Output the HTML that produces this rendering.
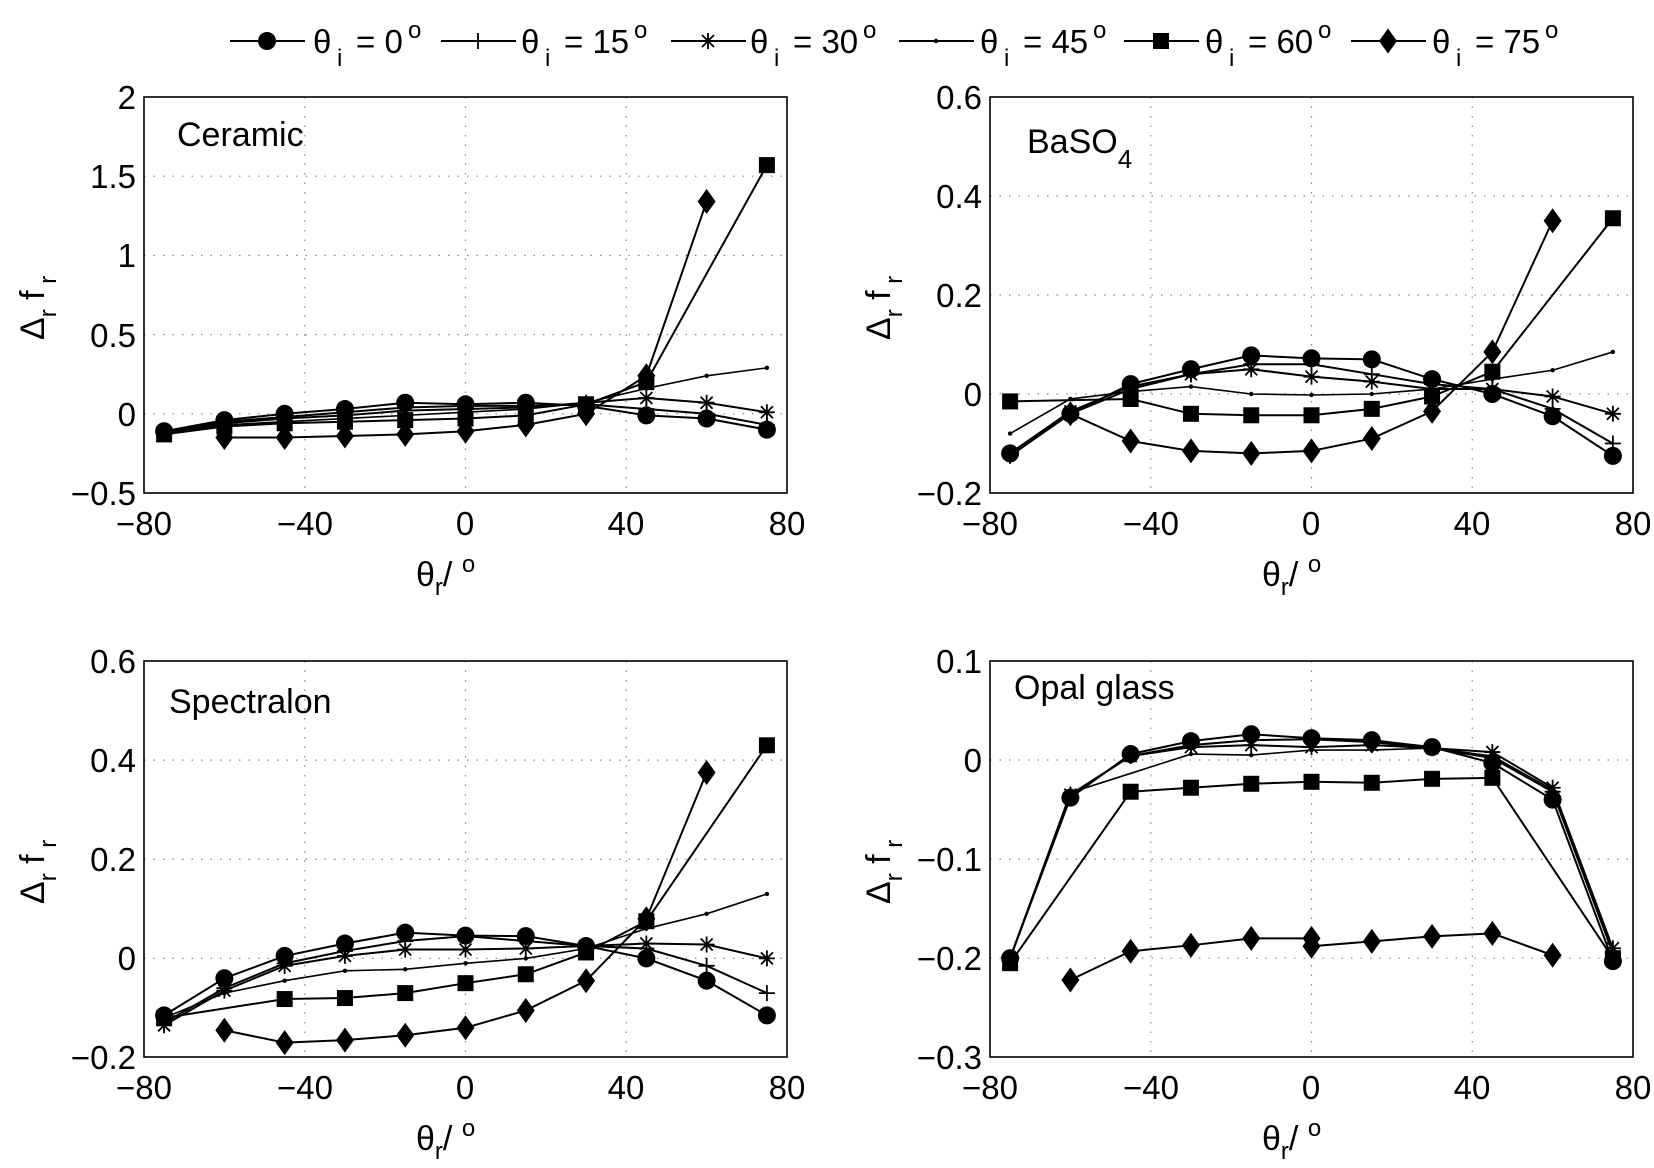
<!DOCTYPE html>
<html><head><meta charset="utf-8"><style>
html,body{margin:0;padding:0;background:#fff;}
svg{display:block;font-family:"Liberation Sans",sans-serif;}
.t{font-size:33px;fill:#000}
.ti{font-size:34px;fill:#000}
.lg{font-size:33px;fill:#000}
</style></head><body>
<svg id="s" width="1654" height="1168" viewBox="0 0 1654 1168" xmlns="http://www.w3.org/2000/svg">
<rect width="1654" height="1168" fill="#fff"/>
<g id="grid"></g>
<g id="data"></g>
<g fill="none" stroke="#000" stroke-width="1.6">
<rect x="144" y="97" width="643" height="396"/>
<rect x="990" y="97" width="643" height="396"/>
<rect x="144" y="661" width="643" height="396"/>
<rect x="990" y="661" width="643" height="396"/>
</g>
<!-- Legend -->
<g class="lg">
<text x="313" y="53">θ</text><text x="337" y="66" font-size="24">i</text><text x="356" y="53">= 0</text><text x="408" y="38" font-size="24">o</text>
<text x="521" y="53">θ</text><text x="545" y="66" font-size="24">i</text><text x="564" y="53">= 15</text><text x="634" y="38" font-size="24">o</text>
<text x="750" y="53">θ</text><text x="774" y="66" font-size="24">i</text><text x="793" y="53">= 30</text><text x="863" y="38" font-size="24">o</text>
<text x="980" y="53">θ</text><text x="1004" y="66" font-size="24">i</text><text x="1023" y="53">= 45</text><text x="1093" y="38" font-size="24">o</text>
<text x="1205" y="53">θ</text><text x="1229" y="66" font-size="24">i</text><text x="1248" y="53">= 60</text><text x="1318" y="38" font-size="24">o</text>
<text x="1432" y="53">θ</text><text x="1456" y="66" font-size="24">i</text><text x="1475" y="53">= 75</text><text x="1545" y="38" font-size="24">o</text>
</g>
<g class="t" text-anchor="end">
<text x="136" y="109">2</text><text x="136" y="188">1.5</text><text x="136" y="267">1</text><text x="136" y="347">0.5</text><text x="136" y="426">0</text><text x="136" y="505">−0.5</text>
<text x="982" y="109">0.6</text><text x="982" y="208">0.4</text><text x="982" y="307">0.2</text><text x="982" y="406">0</text><text x="982" y="505">−0.2</text>
<text x="136" y="673">0.6</text><text x="136" y="772">0.4</text><text x="136" y="871">0.2</text><text x="136" y="970">0</text><text x="136" y="1069">−0.2</text>
<text x="982" y="673">0.1</text><text x="982" y="772">0</text><text x="982" y="871">−0.1</text><text x="982" y="970">−0.2</text><text x="982" y="1069">−0.3</text>
</g>
<g class="t" text-anchor="middle">
<text x="144" y="535">−80</text><text x="305" y="535">−40</text><text x="465" y="535">0</text><text x="626" y="535">40</text><text x="787" y="535">80</text>
<text x="990" y="535">−80</text><text x="1151" y="535">−40</text><text x="1311" y="535">0</text><text x="1472" y="535">40</text><text x="1633" y="535">80</text>
<text x="144" y="1099">−80</text><text x="305" y="1099">−40</text><text x="465" y="1099">0</text><text x="626" y="1099">40</text><text x="787" y="1099">80</text>
<text x="990" y="1099">−80</text><text x="1151" y="1099">−40</text><text x="1311" y="1099">0</text><text x="1472" y="1099">40</text><text x="1633" y="1099">80</text>
</g>
<g class="ti">
<text x="177" y="146">Ceramic</text>
<text x="1027" y="153">BaSO<tspan font-size="26" dy="15">4</tspan></text>
<text x="169" y="713">Spectralon</text>
<text x="1014" y="699">Opal glass</text>
</g>
<g class="ti">
<text x="416" y="586">θ<tspan font-size="24" dy="9">r</tspan><tspan dy="-9">/ </tspan><tspan font-size="24" dy="-14">o</tspan></text>
<text x="1262" y="586">θ<tspan font-size="24" dy="9">r</tspan><tspan dy="-9">/ </tspan><tspan font-size="24" dy="-14">o</tspan></text>
<text x="416" y="1150">θ<tspan font-size="24" dy="9">r</tspan><tspan dy="-9">/ </tspan><tspan font-size="24" dy="-14">o</tspan></text>
<text x="1262" y="1150">θ<tspan font-size="24" dy="9">r</tspan><tspan dy="-9">/ </tspan><tspan font-size="24" dy="-14">o</tspan></text>
</g>
<g class="ti">
<text transform="translate(44,340) rotate(-90)">Δ<tspan font-size="24" dy="12">r</tspan><tspan dy="-12"> f</tspan><tspan font-size="24" dy="12"> r</tspan></text>
<text transform="translate(890,340) rotate(-90)">Δ<tspan font-size="24" dy="12">r</tspan><tspan dy="-12"> f</tspan><tspan font-size="24" dy="12"> r</tspan></text>
<text transform="translate(44,904) rotate(-90)">Δ<tspan font-size="24" dy="12">r</tspan><tspan dy="-12"> f</tspan><tspan font-size="24" dy="12"> r</tspan></text>
<text transform="translate(890,904) rotate(-90)">Δ<tspan font-size="24" dy="12">r</tspan><tspan dy="-12"> f</tspan><tspan font-size="24" dy="12"> r</tspan></text>
</g>
<g id="leg"></g>
</svg>
<script>
(function(){
var NS="http://www.w3.org/2000/svg";
function el(p,n,a){var e=document.createElementNS(NS,n);for(var k in a)e.setAttribute(k,a[k]);p.appendChild(e);return e;}
var grid=document.getElementById('grid'),data=document.getElementById('data'),leg=document.getElementById('leg');
var P=[
 {L:144,T:97,B:493,y0:413.8,s:158.4,yt:[1.5,1,0.5,0]},
 {L:990,T:97,B:493,y0:394,s:495,yt:[0.4,0.2,0]},
 {L:144,T:661,B:1057,y0:958.4,s:495.6,yt:[0.4,0.2,0]},
 {L:990,T:661,B:1057,y0:760,s:991,yt:[0,-0.1,-0.2]}
];
P.forEach(function(p){
 [-40,0,40].forEach(function(x){var X=p.L+(x+80)*4.01875;el(grid,'line',{x1:X,x2:X,y1:p.T,y2:p.B,stroke:'#888','stroke-width':1.2,'stroke-dasharray':'1.5 8'});});
 p.yt.forEach(function(v){var Y=p.y0-v*p.s;el(grid,'line',{x1:p.L,x2:p.L+643,y1:Y,y2:Y,stroke:'#888','stroke-width':1.2,'stroke-dasharray':'1.5 8'});});
});
function marker(g,t,x,y){
 if(t==0)el(g,'circle',{cx:x,cy:y,r:9,fill:'#000'});
 else if(t==1){el(g,'path',{d:'M'+(x-8)+' '+y+'h16M'+x+' '+(y-8)+'v16',stroke:'#000','stroke-width':1.8,fill:'none'});}
 else if(t==2){el(g,'path',{d:'M'+(x-8)+' '+y+'h16M'+x+' '+(y-8)+'v16M'+(x-6)+' '+(y-6)+'l12 12M'+(x+6)+' '+(y-6)+'l-12 12',stroke:'#000','stroke-width':1.8,fill:'none'});}
 else if(t==3)el(g,'circle',{cx:x,cy:y,r:2.2,fill:'#000'});
 else if(t==4)el(g,'rect',{x:x-8,y:y-8,width:16,height:16,fill:'#000'});
 else if(t==5)el(g,'path',{d:'M'+x+' '+(y-12.5)+'L'+(x+9)+' '+y+'L'+x+' '+(y+12.5)+'L'+(x-9)+' '+y+'Z',fill:'#000'});
}
var X=[-75,-60,-45,-30,-15,0,15,30,45,60,75];
function full(a){return a.map(function(v,i){return [X[i],v];}).filter(function(q){return q[1]!==null;});}
var D=[
[ full([-0.11,-0.04,0.0,0.03,0.07,0.06,0.07,0.05,-0.01,-0.03,-0.10]),
  full([-0.12,-0.05,-0.02,0.01,0.04,0.05,0.05,0.06,0.03,0.0,-0.07]),
  full([-0.12,-0.06,-0.03,-0.01,0.02,0.03,0.04,0.07,0.10,0.07,0.01]),
  full([-0.12,-0.07,-0.05,-0.03,-0.01,0.01,0.03,0.07,0.16,0.24,0.29]),
  full([-0.13,-0.08,-0.06,-0.05,-0.04,-0.03,-0.01,0.06,0.20,null,1.57]),
  full([null,-0.15,-0.15,-0.14,-0.13,-0.11,-0.07,0.0,0.24,1.34,null]) ],
[ full([-0.12,-0.04,0.02,0.05,0.078,0.072,0.07,0.03,0.0,-0.045,-0.125]),
  full([-0.125,-0.04,0.01,0.04,0.06,0.06,0.04,0.02,0.01,-0.03,-0.10]),
  full([-0.12,-0.035,0.015,0.04,0.05,0.035,0.025,0.01,0.01,-0.005,-0.04]),
  full([-0.08,-0.01,0.005,0.015,0.0,-0.002,0.0,0.01,0.03,0.048,0.085]),
  full([-0.015,null,-0.01,-0.04,-0.043,-0.043,-0.03,-0.005,0.045,null,0.355]),
  full([null,-0.04,-0.095,-0.115,-0.12,-0.115,-0.09,-0.035,0.085,0.35,null]) ],
[ full([-0.115,-0.04,0.005,0.03,0.052,0.046,0.045,0.025,0.0,-0.045,-0.115]),
  full([-0.13,-0.06,-0.01,0.015,0.035,0.045,0.035,0.025,0.02,-0.015,-0.07]),
  full([-0.135,-0.065,-0.015,0.005,0.018,0.018,0.02,0.025,0.03,0.028,0.0]),
  full([-0.12,-0.07,-0.045,-0.025,-0.022,-0.01,0.0,0.02,0.06,0.09,0.13]),
  full([-0.12,null,-0.082,-0.08,-0.07,-0.05,-0.032,0.012,0.075,null,0.43]),
  full([null,-0.145,-0.17,-0.165,-0.155,-0.14,-0.105,-0.045,0.08,0.375,null]) ],
[ full([-0.2,-0.038,0.006,0.019,0.026,0.022,0.02,0.013,-0.003,-0.04,-0.203]),
  full([-0.2,-0.035,0.004,0.015,0.02,0.021,0.018,0.012,0.002,-0.032,-0.195]),
  full([-0.2,-0.035,0.004,0.013,0.015,0.013,0.015,0.012,0.008,-0.028,-0.19]),
  full([-0.2,-0.033,null,0.006,0.005,0.01,0.01,0.012,0.004,-0.03,-0.19]),
  full([-0.205,null,-0.032,-0.028,-0.024,-0.022,-0.023,-0.019,-0.018,null,-0.2]),
  [[-60,-0.222],[-45,-0.193],[-30,-0.187],[-15,-0.18],[0,-0.18],[0,-0.188],[15,-0.183],[30,-0.178],[45,-0.175],[60,-0.197]] ]
];
D.forEach(function(ser,pi){
 var p=P[pi];
 ser.forEach(function(pts,t){
  var xy=pts.map(function(q){return [p.L+(q[0]+80)*4.01875,p.y0-q[1]*p.s];});
  el(data,'polyline',{points:xy.map(function(a){return a.join(',');}).join(' '),fill:'none',stroke:'#000','stroke-width':t==3?1.6:2});
  xy.forEach(function(a){marker(data,t,a[0],a[1]);});
 });
});
var LX=[230,441,671,899,1124,1351];
LX.forEach(function(x,t){
 el(leg,'line',{x1:x,x2:x+75,y1:41,y2:41,stroke:'#000','stroke-width':2});
 marker(leg,t,x+37,41);
});
})();
</script>
</body></html>
